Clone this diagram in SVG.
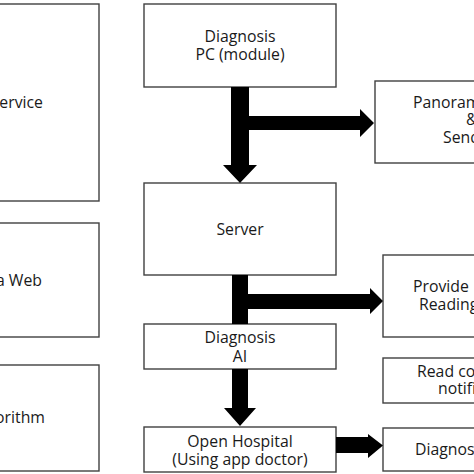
<svg xmlns="http://www.w3.org/2000/svg" width="474" height="474" viewBox="0 0 474 474">
<style>
.box{fill:#fff;stroke:#404040;stroke-width:1.4}
.t{font-family:"Open Sans","Noto Sans",sans-serif;font-size:15.8px;fill:#1a1a1a}
.c{text-anchor:middle}
.e{text-anchor:end}
.arr{fill:#000}
</style>
<rect width="474" height="474" fill="#fff"/>
<g id="left1"><rect class="box" x="-10" y="4" width="109" height="197"/><text class="t e" x="43" y="108">ervice</text></g>
<g id="left2"><rect class="box" x="-10" y="223" width="109" height="114"/><text class="t e" x="42" y="286">a Web</text></g>
<g id="left3"><rect class="box" x="-10" y="365" width="109" height="106"/><text class="t e" x="45" y="423">orithm</text></g>
<g id="pc"><rect class="box" x="144" y="4" width="192" height="83"/><text class="t c" x="240" y="42">Diagnosis</text><text class="t c" x="240" y="60">PC (module)</text></g>
<g id="server"><rect class="box" x="144" y="183" width="192" height="92"/><text class="t c" x="240" y="235">Server</text></g>
<g id="ai"><rect class="box" x="144" y="324" width="192" height="45"/><text class="t c" x="240" y="343">Diagnosis</text><text class="t c" x="240" y="362">AI</text></g>
<g id="hospital"><rect class="box" x="144" y="427" width="192" height="45"/><text class="t c" x="240" y="447">Open Hospital</text><text class="t c" x="240" y="465">(Using app doctor)</text></g>
<g id="panoramic"><rect class="box" x="375" y="81" width="120" height="82"/><text class="t" x="413" y="108">Panoram</text><text class="t" x="466" y="125">&amp;</text><text class="t" x="443" y="143">Send</text></g>
<g id="provide"><rect class="box" x="383" y="255" width="120" height="82"/><text class="t" x="413" y="292">Provide</text><text class="t" x="419" y="310">Reading</text></g>
<g id="read"><rect class="box" x="383" y="358" width="120" height="45"/><text class="t" x="417" y="377">Read co</text><text class="t" x="438" y="394">notifi</text></g>
<g id="diagnos"><rect class="box" x="383" y="428" width="120" height="43"/><text class="t" x="415" y="455">Diagnos</text></g>
<g id="connectors">
<path class="arr" d="M231,87 H249 V116 H360 V109 L374,123 L360,137 V130 H249 V165 H257 L240,183 L223,165 H231 Z"/>
<path class="arr" d="M232,275 H248 V294 H370 V288 L383,301 L370,314 V309 H248 V324 H232 Z"/>
<path class="arr" d="M232,369 H248 V408 H256 L240,426 L224,408 H232 Z"/>
<path class="arr" d="M336,437 H368 V434 L383,445.5 L368,458 V453 H336 Z"/>
</g>
</svg>
